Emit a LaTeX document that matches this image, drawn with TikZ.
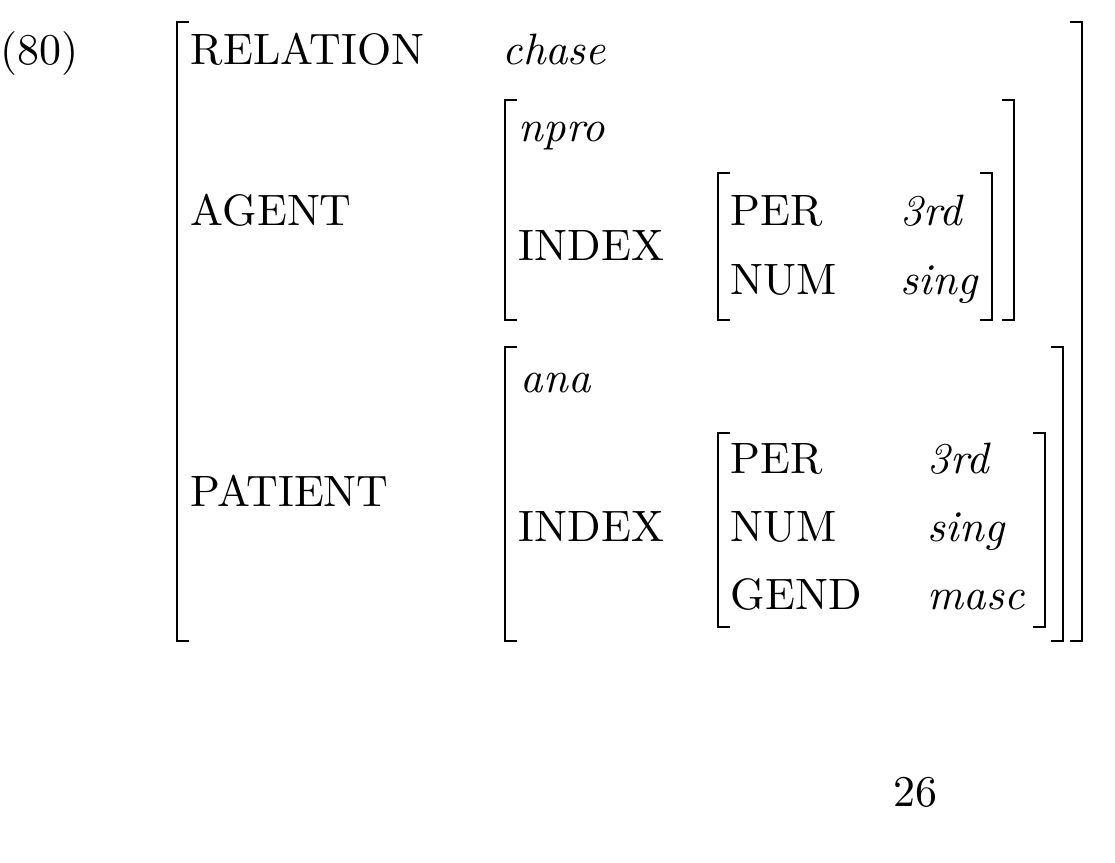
\documentclass[tikz,border=0pt]{standalone}
\begin{document}
\begin{tikzpicture}[x=0.02cm,y=-0.02cm,
  t/.style={anchor=base west,inner sep=0pt,font=\normalsize,scale=2.5,transform shape},
  it/.style={t,font=\normalsize\itshape},
  br/.style={line width=1.6pt}]
\useasboundingbox (0,0) rectangle (1115,862);
\newcommand\lbr[3]{\draw[br] (#1+12,#2)--(#1,#2)--(#1,#3)--(#1+12,#3);}
\newcommand\rbr[3]{\draw[br] (#1-12,#2)--(#1,#2)--(#1,#3)--(#1-12,#3);}
\lbr{177}{22}{641}\rbr{1082}{22}{641}
\lbr{505}{100}{320}\rbr{1014}{100}{320}
\lbr{718}{173}{320}\rbr{992}{173}{320}
\lbr{505}{347}{641}\rbr{1063}{347}{641}
\lbr{718}{433}{627}\rbr{1045}{433}{627}
\node[t] (n80) at (0,64) {(80)};
\node[t] (rel) at (190,64) {RELATION};
\node[it] (chase) at (502,64) {chase};
\node[it] (npro) at (518,141) {npro};
\node[t] (agent) at (190,225) {AGENT};
\node[t] (idx1) at (518,260) {INDEX};
\node[t] (per1) at (730,225) {PER};
\node[it] (r1) at (900,225) {3rd};
\node[t] (num1) at (730,294) {NUM};
\node[it] (s1) at (900,294) {sing};
\node[it] (ana) at (520,392) {ana};
\node[t] (pat) at (190,506) {PATIENT};
\node[t] (idx2) at (518,541) {INDEX};
\node[t] (per2) at (730,473) {PER};
\node[it] (r2) at (927,473) {3rd};
\node[t] (num2) at (730,541) {NUM};
\node[it] (s2) at (927,541) {sing};
\node[t] (gend) at (730,609) {GEND};
\node[it] (m2) at (927,609) {masc};
\node[t] (pg) at (893,806) {26};
\end{tikzpicture}
\end{document}
